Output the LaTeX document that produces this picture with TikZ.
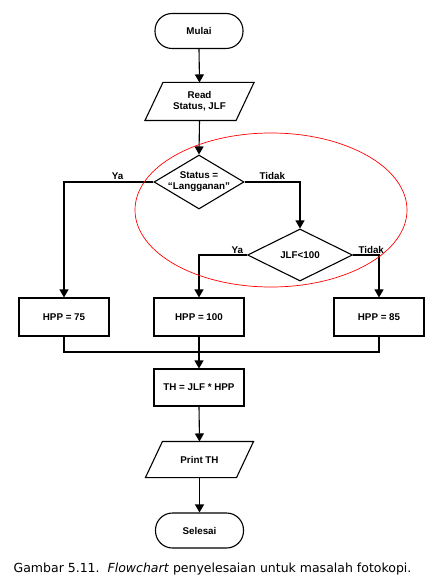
\documentclass[tikz,border=0pt]{standalone}
\usepackage{fontspec}
\setmainfont{Liberation Sans}
\newfontfamily\capfont{DejaVu Sans}
\usetikzlibrary{arrows.meta,shapes.geometric,calc}
\begin{document}
\begin{tikzpicture}[x=1pt,y=-1pt,
  box/.style={draw, line width=1.1pt, inner sep=0pt, font=\bfseries\fontsize{9.8}{11}\selectfont, align=center},
  proc/.style={box, rectangle, minimum width=90pt, minimum height=38pt},
  term/.style={box, rounded corners=17pt, minimum width=88pt, minimum height=35pt},
  io/.style={box, draw=none, minimum width=108pt, minimum height=37pt},
  dec/.style={box, diamond},
  arr/.style={line width=1.1pt, -{Triangle[length=8pt,width=9pt]}},
  ln/.style={line width=1.1pt},
  lab/.style={font=\bfseries\fontsize{9.8}{11}\selectfont, inner sep=2pt}
]
\useasboundingbox[fill=white] (0,0) rectangle (439,577);

\node[term] (mulai) at (199,31) {Mulai};
\node[io] (read) at (199.5,101.5) {Read\\Status, JLF};
\draw[ln] ($(read.north west)+(18,0)$) -- (read.north east) -- ($(read.south east)+(-18,0)$) -- (read.south west) -- cycle;
\node[dec, minimum width=90pt, minimum height=54pt,
      label={[lab,align=center]center:Status =\\“Langganan”}] (d1) at (199,182) {};
\node[dec, minimum width=105pt, minimum height=52pt] (d2) at (300,255) {JLF<100};
\node[proc] (h75) at (64,317) {HPP = 75};
\node[proc] (h100) at (199,317) {HPP = 100};
\node[proc] (h85) at (379,317) {HPP = 85};
\node[proc, minimum height=37pt] (th) at (199,387.5) {TH = JLF * HPP};
\node[io, minimum width=107pt, minimum height=35pt] (print) at (199.5,459.5) {Print TH};
\draw[ln] ($(print.north west)+(17,0)$) -- (print.north east) -- ($(print.south east)+(-17,0)$) -- (print.south west) -- cycle;
\node[term] (selesai) at (199.5,530.5) {Selesai};

\draw[arr] (mulai.south) -- (read.north);
\draw[arr] (read.south) -- (d1.north);
\draw[arr] (d1.west) -| node[lab,above,pos=0.2]{Ya} (h75.north);
\draw[arr] (d1.east) -| node[lab,above,pos=0.25]{Tidak} (d2.north);
\draw[arr] (d2.west) -| node[lab,above,pos=0.1,inner sep=1pt]{Ya} (h100.north);
\draw[arr] (d2.east) -| node[lab,above,pos=0.35,inner sep=1pt]{Tidak} (h85.north);
\coordinate (m) at (199,352);
\draw[ln] (h75.south) |- (m) -| (h85.south);
\draw[arr] (h100.south) -- (th.north);
\draw[arr] (th.south) -- (print.north);
\draw[arr] (print.south) -- (selesai.north);

\draw[red, line width=0.7pt] (271,210) ellipse [x radius=136pt, y radius=77pt];

\node[font=\capfont\fontsize{12.5}{14}\selectfont, anchor=base, inner sep=0pt] (cap) at (212.5,572)
  {Gambar 5.11.\ \ \textit{Flowchart} penyelesaian untuk masalah fotokopi.};
\end{tikzpicture}
\end{document}
